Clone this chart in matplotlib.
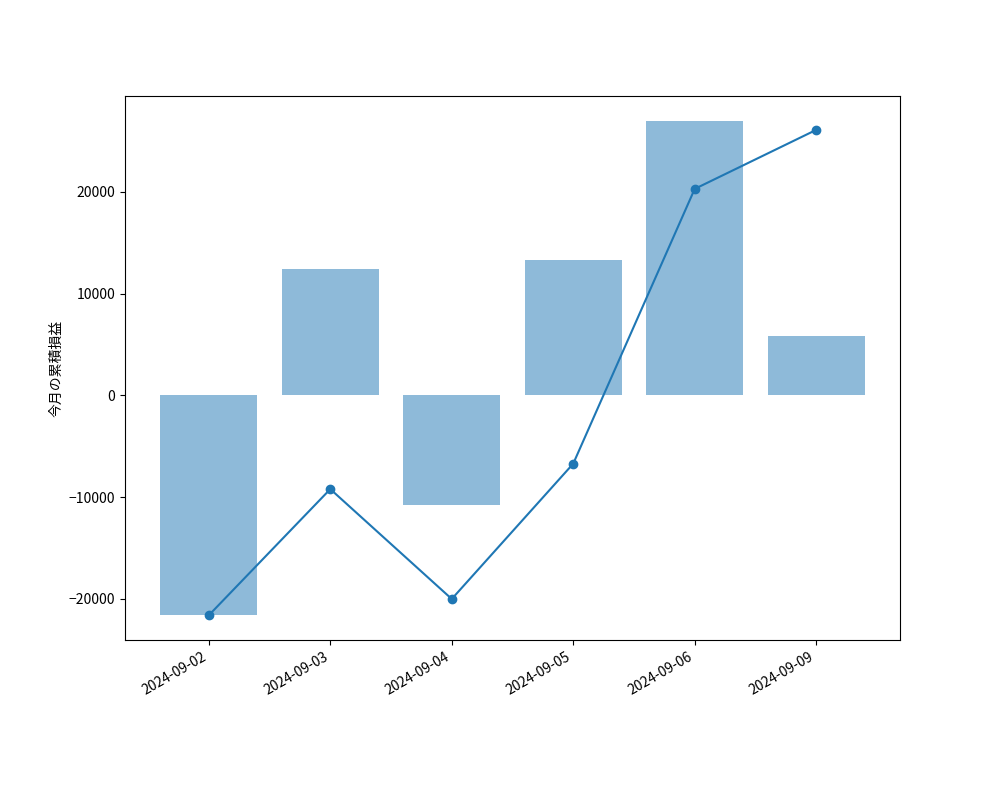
import numpy as np
import matplotlib
matplotlib.use("Agg")
import matplotlib.pyplot as plt

plt.rcParams['font.family'] = ['Noto Sans CJK JP', 'DejaVu Sans']
plt.rcParams['axes.unicode_minus'] = True

dates = ["2024-09-02", "2024-09-03", "2024-09-04", "2024-09-05", "2024-09-06", "2024-09-09"]
daily_pnl = [-21600, 12400, -10800, 13300, 27000, 5800]
cumulative = np.cumsum(daily_pnl)

fig, ax = plt.subplots(figsize=(10, 8), dpi=100)
ax.bar(dates, daily_pnl, alpha=0.5)
ax.plot(dates, cumulative, marker="o")
ax.set_ylabel("今月の累積損益")
fig.autofmt_xdate()
fig.savefig("out.png")
